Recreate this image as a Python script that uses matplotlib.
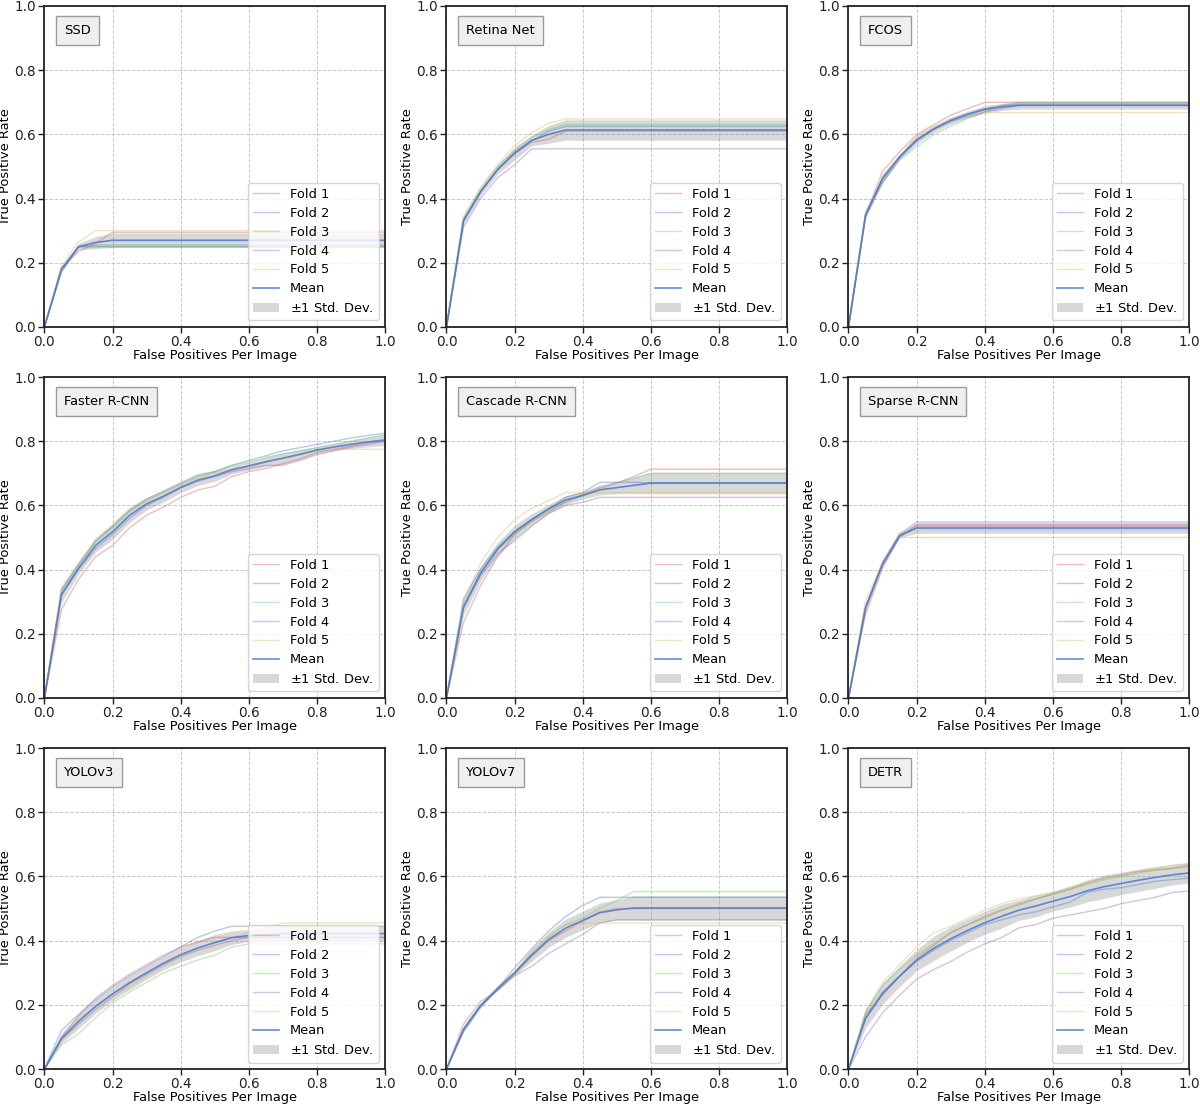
import matplotlib
matplotlib.use("Agg")
import matplotlib.pyplot as plt
import numpy as np

# FPPI sample points shared by every model
fppi = [0.0, 0.05, 0.1, 0.15, 0.2, 0.25, 0.3, 0.35, 0.4, 0.45, 0.5,
        0.55, 0.6, 0.65, 0.7, 0.75, 0.8, 0.85, 0.9, 0.95, 1.0]

models = ["SSD", "Retina Net", "FCOS", "Faster R-CNN", "Cascade R-CNN",
          "Sparse R-CNN", "YOLOv3", "YOLOv7", "DETR"]

# True positive rate per fold
ssd_folds = [
    [0, 0.185, 0.235, 0.26, 0.295, 0.295, 0.295, 0.295, 0.295, 0.295, 0.295, 0.295, 0.295, 0.295, 0.295, 0.295, 0.295, 0.295, 0.295, 0.295, 0.295],
    [0, 0.175, 0.25, 0.25, 0.25, 0.25, 0.25, 0.25, 0.25, 0.25, 0.25, 0.25, 0.25, 0.25, 0.25, 0.25, 0.25, 0.25, 0.25, 0.25, 0.25],
    [0, 0.18, 0.25, 0.25, 0.25, 0.25, 0.25, 0.25, 0.25, 0.25, 0.25, 0.25, 0.25, 0.25, 0.25, 0.25, 0.25, 0.25, 0.25, 0.25, 0.25],
    [0, 0.17, 0.25, 0.255, 0.255, 0.255, 0.255, 0.255, 0.255, 0.255, 0.255, 0.255, 0.255, 0.255, 0.255, 0.255, 0.255, 0.255, 0.255, 0.255, 0.255],
    [0, 0.19, 0.265, 0.30, 0.30, 0.30, 0.30, 0.30, 0.30, 0.30, 0.30, 0.30, 0.30, 0.30, 0.30, 0.30, 0.30, 0.30, 0.30, 0.30, 0.30],
]
retina_folds = [
    [0, 0.33, 0.42, 0.49, 0.54, 0.575, 0.585, 0.61, 0.61, 0.61, 0.61, 0.61, 0.61, 0.61, 0.61, 0.61, 0.61, 0.61, 0.61, 0.61, 0.61],
    [0, 0.33, 0.42, 0.49, 0.545, 0.58, 0.61, 0.625, 0.625, 0.625, 0.625, 0.625, 0.625, 0.625, 0.625, 0.625, 0.625, 0.625, 0.625, 0.625, 0.625],
    [0, 0.34, 0.43, 0.50, 0.55, 0.59, 0.615, 0.63, 0.63, 0.63, 0.63, 0.63, 0.63, 0.63, 0.63, 0.63, 0.63, 0.63, 0.63, 0.63, 0.63],
    [0, 0.31, 0.40, 0.465, 0.505, 0.555, 0.555, 0.555, 0.555, 0.555, 0.555, 0.555, 0.555, 0.555, 0.555, 0.555, 0.555, 0.555, 0.555, 0.555, 0.555],
    [0, 0.345, 0.435, 0.505, 0.565, 0.605, 0.635, 0.648, 0.648, 0.648, 0.648, 0.648, 0.648, 0.648, 0.648, 0.648, 0.648, 0.648, 0.648, 0.648, 0.648],
]
fcos_folds = [
    [0, 0.35, 0.485, 0.545, 0.60, 0.63, 0.66, 0.68, 0.70, 0.70, 0.70, 0.70, 0.70, 0.70, 0.70, 0.70, 0.70, 0.70, 0.70, 0.70, 0.70],
    [0, 0.345, 0.46, 0.53, 0.58, 0.615, 0.645, 0.665, 0.68, 0.69, 0.695, 0.695, 0.695, 0.695, 0.695, 0.695, 0.695, 0.695, 0.695, 0.695, 0.695],
    [0, 0.36, 0.45, 0.52, 0.56, 0.60, 0.625, 0.65, 0.67, 0.69, 0.70, 0.70, 0.70, 0.70, 0.70, 0.70, 0.70, 0.70, 0.70, 0.70, 0.70],
    [0, 0.34, 0.45, 0.525, 0.58, 0.615, 0.64, 0.655, 0.67, 0.68, 0.69, 0.69, 0.69, 0.69, 0.69, 0.69, 0.69, 0.69, 0.69, 0.69, 0.69],
    [0, 0.345, 0.47, 0.53, 0.595, 0.625, 0.645, 0.66, 0.668, 0.668, 0.668, 0.668, 0.668, 0.668, 0.668, 0.668, 0.668, 0.668, 0.668, 0.668, 0.668],
]
faster_folds = [
    [0, 0.275, 0.37, 0.44, 0.475, 0.53, 0.57, 0.595, 0.625, 0.648, 0.66, 0.69, 0.705, 0.715, 0.73, 0.745, 0.765, 0.775, 0.785, 0.795, 0.80],
    [0, 0.335, 0.415, 0.49, 0.535, 0.585, 0.62, 0.645, 0.67, 0.695, 0.705, 0.725, 0.74, 0.755, 0.77, 0.78, 0.79, 0.80, 0.81, 0.818, 0.825],
    [0, 0.335, 0.415, 0.485, 0.53, 0.58, 0.615, 0.64, 0.665, 0.69, 0.705, 0.725, 0.735, 0.75, 0.76, 0.77, 0.78, 0.79, 0.80, 0.81, 0.82],
    [0, 0.32, 0.40, 0.465, 0.51, 0.56, 0.60, 0.625, 0.655, 0.675, 0.69, 0.705, 0.715, 0.725, 0.725, 0.74, 0.758, 0.77, 0.782, 0.79, 0.80],
    [0, 0.345, 0.42, 0.495, 0.54, 0.59, 0.62, 0.64, 0.665, 0.685, 0.70, 0.71, 0.72, 0.735, 0.75, 0.76, 0.77, 0.775, 0.775, 0.775, 0.775],
]
cascade_folds = [
    [0, 0.235, 0.35, 0.44, 0.51, 0.55, 0.58, 0.61, 0.635, 0.655, 0.67, 0.69, 0.713, 0.713, 0.713, 0.713, 0.713, 0.713, 0.713, 0.713, 0.713],
    [0, 0.31, 0.40, 0.47, 0.52, 0.555, 0.59, 0.625, 0.64, 0.672, 0.672, 0.672, 0.67, 0.67, 0.67, 0.67, 0.67, 0.67, 0.67, 0.67, 0.67],
    [0, 0.29, 0.39, 0.46, 0.51, 0.55, 0.585, 0.61, 0.63, 0.65, 0.67, 0.685, 0.70, 0.70, 0.70, 0.70, 0.70, 0.70, 0.70, 0.70, 0.70],
    [0, 0.28, 0.38, 0.45, 0.49, 0.535, 0.575, 0.60, 0.61, 0.625, 0.625, 0.625, 0.625, 0.625, 0.625, 0.625, 0.625, 0.625, 0.625, 0.625, 0.625],
    [0, 0.30, 0.42, 0.50, 0.555, 0.59, 0.615, 0.64, 0.64, 0.64, 0.64, 0.64, 0.64, 0.64, 0.64, 0.64, 0.64, 0.64, 0.64, 0.64, 0.64],
]
sparse_folds = [
    [0, 0.26, 0.405, 0.50, 0.54, 0.54, 0.54, 0.54, 0.54, 0.54, 0.54, 0.54, 0.54, 0.54, 0.54, 0.54, 0.54, 0.54, 0.54, 0.54, 0.54],
    [0, 0.28, 0.425, 0.51, 0.548, 0.548, 0.548, 0.548, 0.548, 0.548, 0.548, 0.548, 0.548, 0.548, 0.548, 0.548, 0.548, 0.548, 0.548, 0.548, 0.548],
    [0, 0.285, 0.42, 0.50, 0.50, 0.50, 0.50, 0.50, 0.50, 0.50, 0.50, 0.50, 0.50, 0.50, 0.50, 0.50, 0.50, 0.50, 0.50, 0.50, 0.50],
    [0, 0.28, 0.415, 0.505, 0.535, 0.535, 0.535, 0.535, 0.535, 0.535, 0.535, 0.535, 0.535, 0.535, 0.535, 0.535, 0.535, 0.535, 0.535, 0.535, 0.535],
    [0, 0.305, 0.42, 0.515, 0.525, 0.525, 0.525, 0.525, 0.525, 0.525, 0.525, 0.525, 0.525, 0.525, 0.525, 0.525, 0.525, 0.525, 0.525, 0.525, 0.525],
]
yolov3_folds = [
    [0, 0.10, 0.165, 0.22, 0.26, 0.295, 0.325, 0.355, 0.38, 0.395, 0.41, 0.41, 0.41, 0.41, 0.41, 0.41, 0.41, 0.41, 0.41, 0.41, 0.41],
    [0, 0.12, 0.17, 0.215, 0.255, 0.29, 0.32, 0.35, 0.38, 0.41, 0.43, 0.445, 0.445, 0.445, 0.445, 0.445, 0.445, 0.445, 0.445, 0.445, 0.445],
    [0, 0.075, 0.11, 0.16, 0.205, 0.24, 0.27, 0.30, 0.32, 0.34, 0.355, 0.38, 0.39, 0.39, 0.39, 0.39, 0.39, 0.39, 0.39, 0.39, 0.39],
    [0, 0.09, 0.14, 0.185, 0.225, 0.265, 0.295, 0.325, 0.35, 0.37, 0.385, 0.40, 0.41, 0.41, 0.41, 0.41, 0.41, 0.41, 0.41, 0.41, 0.41],
    [0, 0.09, 0.155, 0.195, 0.225, 0.255, 0.29, 0.32, 0.35, 0.37, 0.39, 0.41, 0.425, 0.44, 0.455, 0.455, 0.455, 0.455, 0.455, 0.455, 0.455],
]
yolov7_folds = [
    [0, 0.14, 0.21, 0.245, 0.295, 0.35, 0.40, 0.43, 0.46, 0.49, 0.50, 0.50, 0.50, 0.50, 0.50, 0.50, 0.50, 0.50, 0.50, 0.50, 0.50],
    [0, 0.12, 0.195, 0.25, 0.315, 0.375, 0.43, 0.475, 0.51, 0.535, 0.535, 0.535, 0.535, 0.535, 0.535, 0.535, 0.535, 0.535, 0.535, 0.535, 0.535],
    [0, 0.115, 0.19, 0.255, 0.30, 0.36, 0.41, 0.45, 0.47, 0.50, 0.525, 0.553, 0.553, 0.553, 0.553, 0.553, 0.553, 0.553, 0.553, 0.553, 0.553],
    [0, 0.12, 0.195, 0.245, 0.29, 0.32, 0.36, 0.39, 0.42, 0.455, 0.465, 0.465, 0.465, 0.465, 0.465, 0.465, 0.465, 0.465, 0.465, 0.465, 0.465],
    [0, 0.125, 0.20, 0.255, 0.30, 0.37, 0.415, 0.45, 0.455, 0.455, 0.455, 0.455, 0.455, 0.455, 0.455, 0.455, 0.455, 0.455, 0.455, 0.455, 0.455],
]
detr_folds = [
    [0, 0.17, 0.23, 0.29, 0.345, 0.385, 0.425, 0.45, 0.475, 0.495, 0.515, 0.53, 0.545, 0.56, 0.58, 0.595, 0.605, 0.615, 0.62, 0.625, 0.635],
    [0, 0.16, 0.24, 0.29, 0.335, 0.37, 0.40, 0.425, 0.45, 0.465, 0.48, 0.49, 0.505, 0.52, 0.55, 0.56, 0.565, 0.575, 0.585, 0.59, 0.595],
    [0, 0.175, 0.26, 0.31, 0.355, 0.39, 0.425, 0.45, 0.47, 0.495, 0.51, 0.53, 0.545, 0.56, 0.575, 0.59, 0.60, 0.61, 0.62, 0.625, 0.63],
    [0, 0.10, 0.175, 0.23, 0.28, 0.31, 0.335, 0.365, 0.39, 0.41, 0.44, 0.45, 0.47, 0.48, 0.49, 0.50, 0.515, 0.525, 0.535, 0.55, 0.555],
    [0, 0.18, 0.27, 0.325, 0.38, 0.425, 0.445, 0.47, 0.495, 0.515, 0.53, 0.54, 0.55, 0.565, 0.58, 0.595, 0.605, 0.615, 0.625, 0.635, 0.64],
]

all_folds = [ssd_folds, retina_folds, fcos_folds, faster_folds, cascade_folds,
             sparse_folds, yolov3_folds, yolov7_folds, detr_folds]

fold_colors = ['#D65F5F', '#4878D0', '#6ACC64', '#956CB4', '#D5BB67']
mean_color = '#4878D0'
fs = 9.4
tick_fs = 9.8

fig, axes = plt.subplots(3, 3, figsize=(12, 11.07), dpi=100)
fig.subplots_adjust(left=0.037, right=0.991, top=0.9946, bottom=0.0343,
                    wspace=0.18, hspace=0.156)

for ax, name, folds in zip(axes.flat, models, all_folds):
    tpr = np.array(folds)
    for i, row in enumerate(tpr):
        ax.plot(fppi, row, color=fold_colors[i], alpha=0.4, lw=1.0,
                label=f"Fold {i + 1}")
    mean_tpr = tpr.mean(axis=0)
    std_tpr = tpr.std(axis=0)
    ax.plot(fppi, mean_tpr, color=mean_color, alpha=0.85, lw=1.2, label="Mean")
    ax.fill_between(fppi, mean_tpr - std_tpr, mean_tpr + std_tpr,
                    color='grey', alpha=0.3, lw=0, label=r"$\pm$1 Std. Dev.")

    ax.set_xlim(0, 1)
    ax.set_ylim(0, 1)
    ax.set_xticks(np.arange(0, 1.01, 0.2))
    ax.set_yticks(np.arange(0, 1.01, 0.2))
    ax.grid(True, ls='--', lw=0.7, color='#c8c8c8')
    ax.set_axisbelow(True)
    ax.tick_params(labelsize=tick_fs, length=4.5, width=1.0, pad=1.5, colors='#222222')
    for s in ax.spines.values():
        s.set_linewidth(1.3)
        s.set_color('#222222')
    ax.set_xlabel("False Positives Per Image", fontsize=fs, labelpad=0)
    ax.set_ylabel("True Positive Rate", fontsize=fs, labelpad=2)
    ax.text(0.057, 0.945, name, transform=ax.transAxes, fontsize=fs,
            va='top', ha='left',
            bbox=dict(boxstyle='square,pad=0.62', fc='#efefef', ec='#9a9a9a', lw=1.0))
    ax.legend(loc='lower right', fontsize=fs, handlelength=2.0,
              borderpad=0.4, labelspacing=0.45)

fig.savefig("out.png")
